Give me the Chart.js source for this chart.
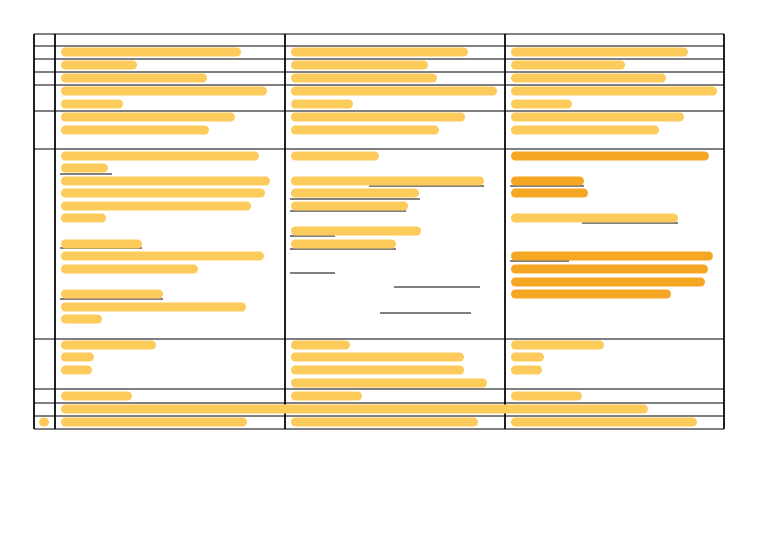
<!DOCTYPE html>
<html><head><meta charset="utf-8">
<script src="https://cdn.jsdelivr.net/npm/chart.js@4"></script>
<style>html,body{margin:0;padding:0;background:#fff}</style>
</head><body>
<canvas id="c" width="768" height="543"></canvas>
<script>
// Table grid
const colLines = [34, 55, 285, 505, 724];
const rowLines = [34, 46, 59, 72, 85, 111, 149, 339, 389, 403, 416, 429];
// Text bars: [x1, x2, y, kind] kind 0 = light, 1 = orange
const col1Bars = [[61,241,52,0],[61,137,65,0],[61,207,78,0],[61,267,91,0],[61,123,104,0],[61,235,117,0],[61,209,130,0],
 [61,259,156,0],[61,108,168,0],[61,270,181,0],[61,265,193,0],[61,251,206,0],[61,106,218,0],[61,142,244,0],[61,264,256,0],
 [61,198,269,0],[61,163,294,0],[61,246,307,0],[61,102,319,0],[61,156,345,0],[61,94,357,0],[61,92,370,0],[61,132,396,0],
 [61,648,409,0],[39,49,422,0],[61,247,422,0]];
const col2Bars = [[291,468,52,0],[291,428,65,0],[291,437,78,0],[291,497,91,0],[291,353,104,0],[291,465,117,0],[291,439,130,0],
 [291,379,156,0],[291,484,181,0],[291,419,193,0],[291,408,206,0],[291,421,231,0],[291,396,244,0],
 [291,350,345,0],[291,464,357,0],[291,464,370,0],[291,487,383,0],[291,362,396,0],[291,478,422,0]];
const col3Bars = [[511,688,52,0],[511,625,65,0],[511,666,78,0],[511,717,91,0],[511,572,104,0],[511,684,117,0],[511,659,130,0],
 [511,709,156,1],[511,584,181,1],[511,588,193,1],[511,678,218,0],[511,713,256,1],[511,708,269,1],[511,705,282,1],[511,671,294,1],
 [511,604,345,0],[511,544,357,0],[511,542,370,0],[511,582,396,0],[511,697,422,0]];
// Underlines: [x1, x2, y]
const underlines = [[60,112,174],[60,142,248],[60,163,299],[369,484,186],[290,420,199],[290,406,211],[290,335,236],[290,396,249],
 [290,335,273],[394,480,287],[380,471,313],[510,584,186],[582,678,223],[510,569,261]];
const kindColors = ['#FCCB5B', '#F5A623'];

const ds = [];
const seg = (x1,y1,x2,y2,color,w,cap) => ds.push({data:[{x:x1,y:y1},{x:x2,y:y2}],borderColor:color,borderWidth:w,
  borderCapStyle:cap,pointRadius:0,fill:false,tension:0});
[...col1Bars,...col2Bars,...col3Bars].forEach(([a,b,y,k]) => seg(a+4.5,y,b-4.5,y,kindColors[k],9,'round'));
underlines.forEach(([a,b,y]) => seg(a,y,b,y,'#000',1,'butt'));
const gridTop = rowLines[0], gridBot = rowLines[rowLines.length-1];
rowLines.forEach(y => seg(colLines[0],y,colLines[colLines.length-1],y,'#000',1,'butt'));
colLines.forEach(x => seg(x,gridTop,x,gridBot,'#000',1,'butt'));

new Chart(document.getElementById('c'), {
  type: 'line',
  data: { datasets: ds },
  options: {
    responsive: false, animation: false, events: [],
    layout: { padding: 0 },
    plugins: { legend: { display: false }, tooltip: { enabled: false } },
    scales: {
      x: { type: 'linear', min: 0, max: 768, display: false },
      y: { type: 'linear', min: 0, max: 543, reverse: true, display: false }
    }
  }
});
</script>
</body></html>
